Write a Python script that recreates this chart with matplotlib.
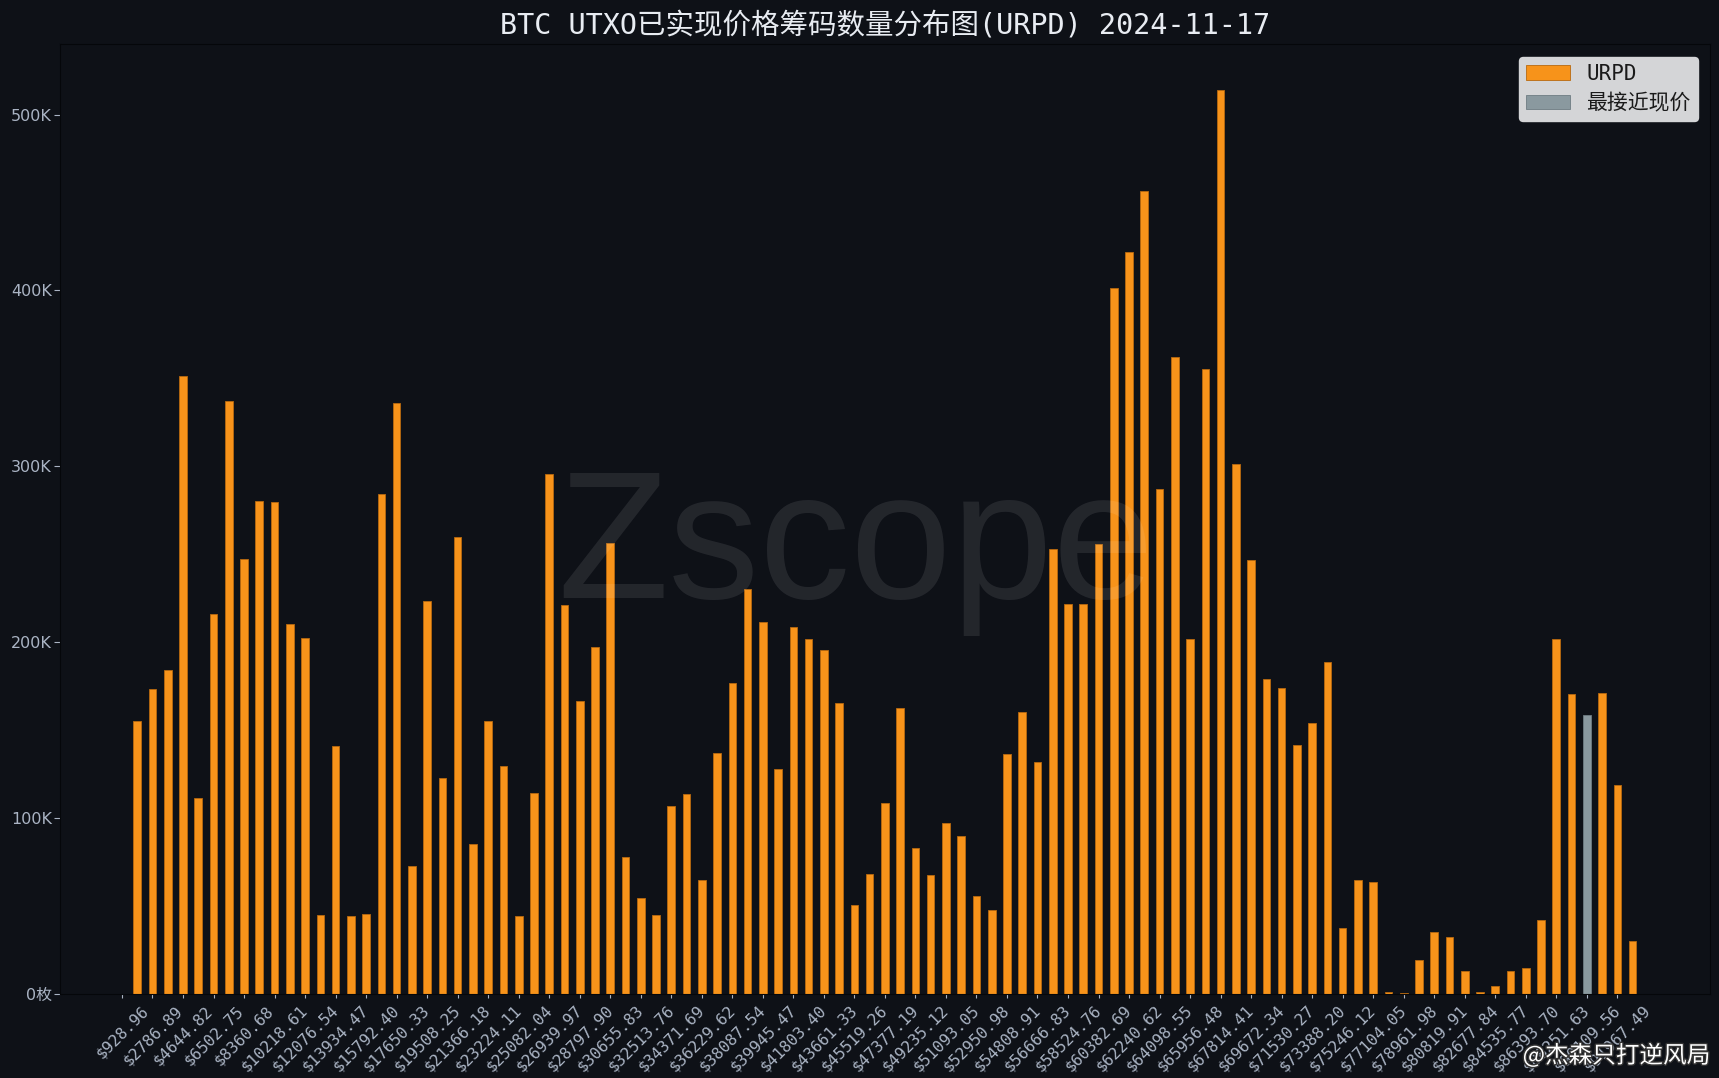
import numpy as np
import matplotlib
matplotlib.use('Agg')
from matplotlib import pyplot as plt
from matplotlib.ticker import FuncFormatter, MultipleLocator
import matplotlib.patheffects as pe

# URPD values per price bin (thousands of BTC)
urpd_k = [0, 155.3, 173.3, 184.1, 351.4, 111.3, 216.3, 337.4, 247.3, 280.5,
          279.8, 210.5, 202.1, 44.8, 140.8, 44.4, 45.6, 284.2, 335.9, 73.0,
          223.5, 122.8, 260.0, 85.1, 155.4, 129.7, 44.4, 114.5, 295.7, 221.0,
          166.5, 197.5, 256.3, 78.0, 54.6, 45.0, 107.0, 113.8, 64.9, 137.1,
          177.0, 230.0, 211.4, 128.1, 208.9, 201.8, 195.6, 165.6, 50.7, 68.0,
          108.3, 162.5, 83.2, 67.7, 97.1, 90.0, 55.9, 47.9, 136.5, 160.3,
          131.8, 252.9, 221.9, 221.9, 255.7, 401.6, 422.0, 456.7, 287.3, 361.9,
          201.8, 355.4, 513.7, 301.5, 247.0, 179.2, 173.9, 141.7, 153.8, 188.8,
          37.5, 64.9, 63.7, 1.2, 0.5, 19.0, 35.0, 32.5, 13.0, 1.0,
          4.5, 13.0, 15.0, 42.0, 202.0, 170.5, 158.5, 171.0, 119.0, 30.0]

tick_labels = ['$928.96', '$2786.89', '$4644.82', '$6502.75', '$8360.68', '$10218.61',
               '$12076.54', '$13934.47', '$15792.40', '$17650.33', '$19508.25', '$21366.18',
               '$23224.11', '$25082.04', '$26939.97', '$28797.90', '$30655.83', '$32513.76',
               '$34371.69', '$36229.62', '$38087.54', '$39945.47', '$41803.40', '$43661.33',
               '$45519.26', '$47377.19', '$49235.12', '$51093.05', '$52950.98', '$54808.91',
               '$56666.83', '$58524.76', '$60382.69', '$62240.62', '$64098.55', '$65956.48',
               '$67814.41', '$69672.34', '$71530.27', '$73388.20', '$75246.12', '$77104.05',
               '$78961.98', '$80819.91', '$82677.84', '$84535.77', '$86393.70', '$88251.63',
               '$90109.56', '$91967.49']

nearest_label = '$90109.56'   # bin closest to the current price

BG = '#0e1117'
ORANGE = '#f7931a'
GREY = '#8a999f'
TXT = '#aab4c4'
MONO = ['DejaVu Sans Mono', 'Noto Sans CJK SC']

values = np.array(urpd_k) * 1000
x = np.arange(len(values))
cur = 2 * tick_labels.index(nearest_label)

fig = plt.figure(figsize=(17.19, 10.78), dpi=100, facecolor=BG)
ax = fig.add_axes([0.035, 0.078, 0.96, 0.881], facecolor=BG)

mask = x != cur
ax.bar(x[mask], values[mask], width=0.5, color=ORANGE, edgecolor='#b8690f',
       linewidth=0.6, label='URPD', zorder=2)
ax.bar(x[~mask], values[~mask], width=0.5, color=GREY, edgecolor='#6e7c82',
       linewidth=0.6, label='最接近现价', zorder=2)

ax.set_xlim(-4.05, 104.1)
ax.set_ylim(0, 540000)
ax.set_xticks(x[::2])
ax.set_xticklabels(tick_labels, rotation=45, ha='center', fontsize=11.5,
                   family=MONO, color=TXT)
ax.yaxis.set_major_locator(MultipleLocator(100000))
ax.yaxis.set_major_formatter(FuncFormatter(lambda v, p: '0枚' if v == 0 else f'{int(v/1000)}K'))
for lab in ax.get_yticklabels():
    lab.set_family(['DejaVu Sans', 'Noto Sans CJK SC'])
ax.tick_params(axis='y', colors=TXT, labelsize=11.5, length=4, width=0.8, pad=2)
ax.tick_params(axis='x', colors=TXT, length=3, width=0.8)
for s in ax.spines.values():
    s.set_color('#05070a')
    s.set_linewidth(0.8)

fig.text(0.515, 0.976, 'BTC UTXO已实现价格筹码数量分布图(URPD) 2024-11-17',
         ha='center', va='center', fontsize=20.5, family=MONO, color='#e8ecf2')

leg = ax.legend(loc='upper right', prop={'family': MONO, 'size': 15},
                facecolor='#d4d5d7', edgecolor='#d4d5d7', framealpha=1,
                handlelength=2.1, borderaxespad=0.6, borderpad=0.35,
                labelspacing=0.45)
for t in leg.get_texts():
    t.set_color('#1a1a1a')

# watermarks
fig.text(0.4976, 0.4456, 'Zscope', ha='center', va='baseline', fontsize=131,
         family='Liberation Sans', color='white', alpha=0.09)
fig.text(0.995, 0.021, '@杰森只打逆风局', ha='right', va='center', fontsize=17,
         family='Noto Sans CJK SC', color='white',
         path_effects=[pe.withStroke(linewidth=2, foreground='#333333')])

fig.savefig('out.png', dpi=100, facecolor=BG)
